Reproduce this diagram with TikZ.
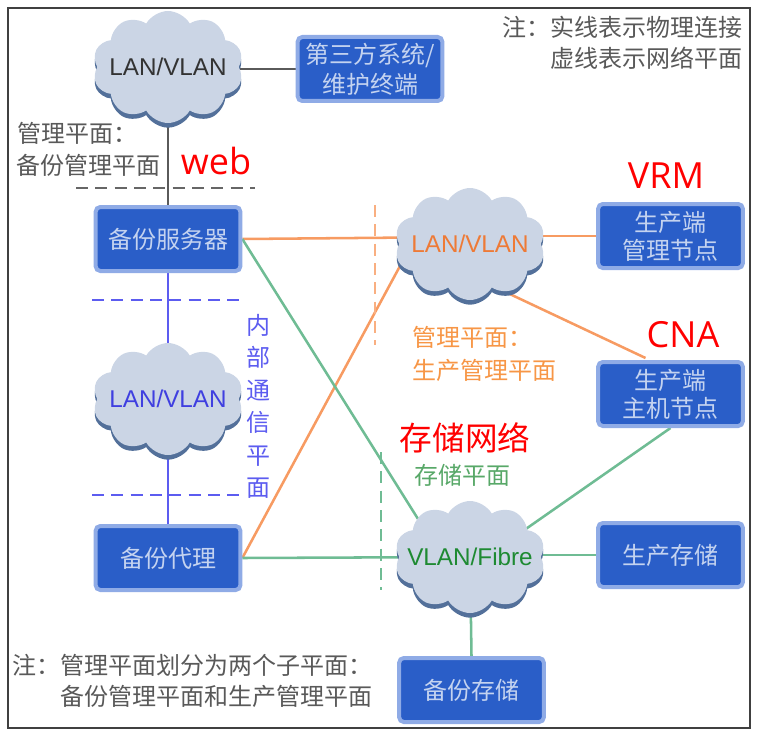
\documentclass[tikz,border=0pt]{standalone}
\usepackage{fontspec}
\setmainfont{Noto Sans CJK SC}
\newfontfamily\latinfont{Liberation Sans}
\newfontfamily\redfont{Open Sans}
\usetikzlibrary{shapes.symbols,shadows,backgrounds}
\definecolor{boxfill}{HTML}{2A5EC8}
\definecolor{boxedge}{HTML}{8FABE6}
\definecolor{boxtext}{HTML}{C4D3F0}
\definecolor{cloudfill}{HTML}{CBD5E5}
\definecolor{cloudshade}{HTML}{53709A}
\definecolor{orangeline}{HTML}{F79B62}
\definecolor{greenline}{HTML}{6FBC94}
\definecolor{blueline}{HTML}{5C5CF0}
\definecolor{grayline}{HTML}{5A5A5A}
\definecolor{greentext}{HTML}{58A868}
\definecolor{orangetext}{HTML}{F79646}
\definecolor{orangecloud}{HTML}{EE7A36}
\definecolor{bluecloud}{HTML}{3F3FE0}
\definecolor{greencloud}{HTML}{1E8A32}
\newcommand{\cjktext}{\fontsize{18}{18}\selectfont}
\tikzset{
  x=0.75pt,y=-0.75pt,
  box/.style={draw=boxedge,fill=boxfill,line width=3pt,rounded corners=3.5pt,
    minimum width=108.5pt,minimum height=48pt,inner sep=0pt,align=center,
    text=boxtext,font=\cjktext},
  net/.style={cloud,cloud puffs=10,cloud puff arc=120,aspect=1.3,fill=cloudfill,
    inner sep=0pt,minimum width=113pt,minimum height=84pt,
    copy shadow={fill=cloudshade,opacity=1,shadow xshift=0pt,shadow yshift=-3.5pt,draw=none}},
  plain/.style={inner sep=0pt,font=\cjktext,text=#1},
  plain/.default=black!65,
  redlabel/.style={inner sep=0pt,text=red},
  link/.style={line width=1.9pt},
  plane/.style={line width=2pt,dash pattern=on 9pt off 5.5pt},
}
\newcommand{\nettext}[1]{\makebox[0pt]{\latinfont\fontsize{18.2}{18}\selectfont #1}}
\begin{document}
\begin{tikzpicture}
\useasboundingbox (0,0) rectangle (770,731);
% clouds
\node[net] (mgmt) at (168,67) {\nettext{\textcolor{black!80}{LAN/VLAN}}};
\node[net] (inner) at (168,399) {\nettext{\textcolor{bluecloud}{LAN/VLAN}}};
\node[net] (prod) at (470,244) {\nettext{\textcolor{orangecloud}{LAN/VLAN}}};
\node[net] (san) at (470,557) {\nettext{\textcolor{greencloud}{VLAN/Fibre}}};
% boxes
\node[box] (third) at (370,69) {第三方系统/\\[3pt]维护终端};
\node[box] (server) at (168,239) {备份服务器};
\node[box] (agent) at (168,558) {备份代理};
\node[box] (vrm) at (670.5,236) {生产端\\[3pt]管理节点};
\node[box] (cna) at (670.5,394) {生产端\\[3pt]主机节点};
\node[box] (pstore) at (670.5,555) {生产存储};
\node[box] (bstore) at (471.5,690) {备份存储};
% named ends of the plane markers
\coordinate (gl) at (76,188); \coordinate (gr) at (255,188);
\coordinate (bl1) at (92,300); \coordinate (br1) at (240,300);
\coordinate (bl2) at (92,495); \coordinate (br2) at (240,495);
\coordinate (ot) at (375,205); \coordinate (ob) at (375,345);
\coordinate (gt) at (381,452); \coordinate (gb) at (381,590);
\begin{scope}[on background layer]
  \draw[line width=1.7pt,draw=black!75] (8,8) rectangle (750,728);
  \draw[link,grayline] (mgmt.center) -- (server.north);
  \draw[link,grayline] (mgmt.center |- third.west) -- (third.west);
  \draw[link,blueline] (server.south) -- (agent.north);
  \draw[link,orangeline] (server.east) -- ([shift={(0,-7)}]prod.center);
  \draw[link,orangeline] (agent.east) -- ([shift={(-50,-15)}]prod.center);
  \draw[link,orangeline] (prod.center |- vrm.west) -- (vrm.west);
  \draw[link,orangeline] ([shift={(10,36)}]prod.center) -- ([shift={(-25,-36)}]cna.center);
  \draw[link,greenline] (server.east) -- ([shift={(-30,-3)}]san.center);
  \draw[link,greenline] (agent.east) -- (san.center);
  \draw[link,greenline] (san.center |- pstore.west) -- (pstore.west);
  \draw[link,greenline] (san.center) -- (bstore.north);
  \draw[link,greenline] ([shift={(30,-10)}]san.center) -- ([shift={(0,34)}]cna.center);
  \draw[plane,black!60] (gl) -- (gr);
  \draw[plane,blueline] (bl1) -- (br1);
  \draw[plane,blueline] (bl2) -- (br2);
  \draw[plane,orangeline!80] (ot) -- (ob);
  \draw[plane,greenline] (gt) -- (gb);
\end{scope}
% texts
\node[plain,anchor=west] (note1) at (502,27) {注：实线表示物理连接};
\node[plain,anchor=east] (note2) at (743,58) {虚线表示网络平面};
\node[plain,anchor=west] (m1) at (17,133) {管理平面：};
\node[plain,anchor=west] (m2) at (16,165) {备份管理平面};
\node[plain=orangetext,anchor=west] (p1) at (412,337) {管理平面：};
\node[plain=orangetext,anchor=west] (p2) at (412,370) {生产管理平面};
\node[plain=greentext,anchor=west] (s1) at (414,475) {存储平面};
\node[plain=blueline,align=center,anchor=north] (v1) at (258,314) {内\\[6.3pt]部\\[6.3pt]通\\[6.3pt]信\\[6.3pt]平\\[6.3pt]面};
\node[plain,anchor=west] (n1) at (12,665) {注：管理平面划分为两个子平面：};
\node[plain,anchor=west] (n2) at (60,696) {备份管理平面和生产管理平面};
\node[redlabel,font=\redfont\fontsize{27}{27}\selectfont,anchor=base] (web) at (216,174) {web};
\node[redlabel,font=\redfont\fontsize{27}{27}\selectfont,anchor=base] (vrmt) at (666,188) {VRM};
\node[redlabel,font=\redfont\fontsize{27}{27}\selectfont,anchor=base] (cnat) at (683,347) {CNA};
\node[redlabel,font=\fontsize{24.5}{24.5}\selectfont] (sn) at (465,438) {存储网络};
\end{tikzpicture}
\end{document}
